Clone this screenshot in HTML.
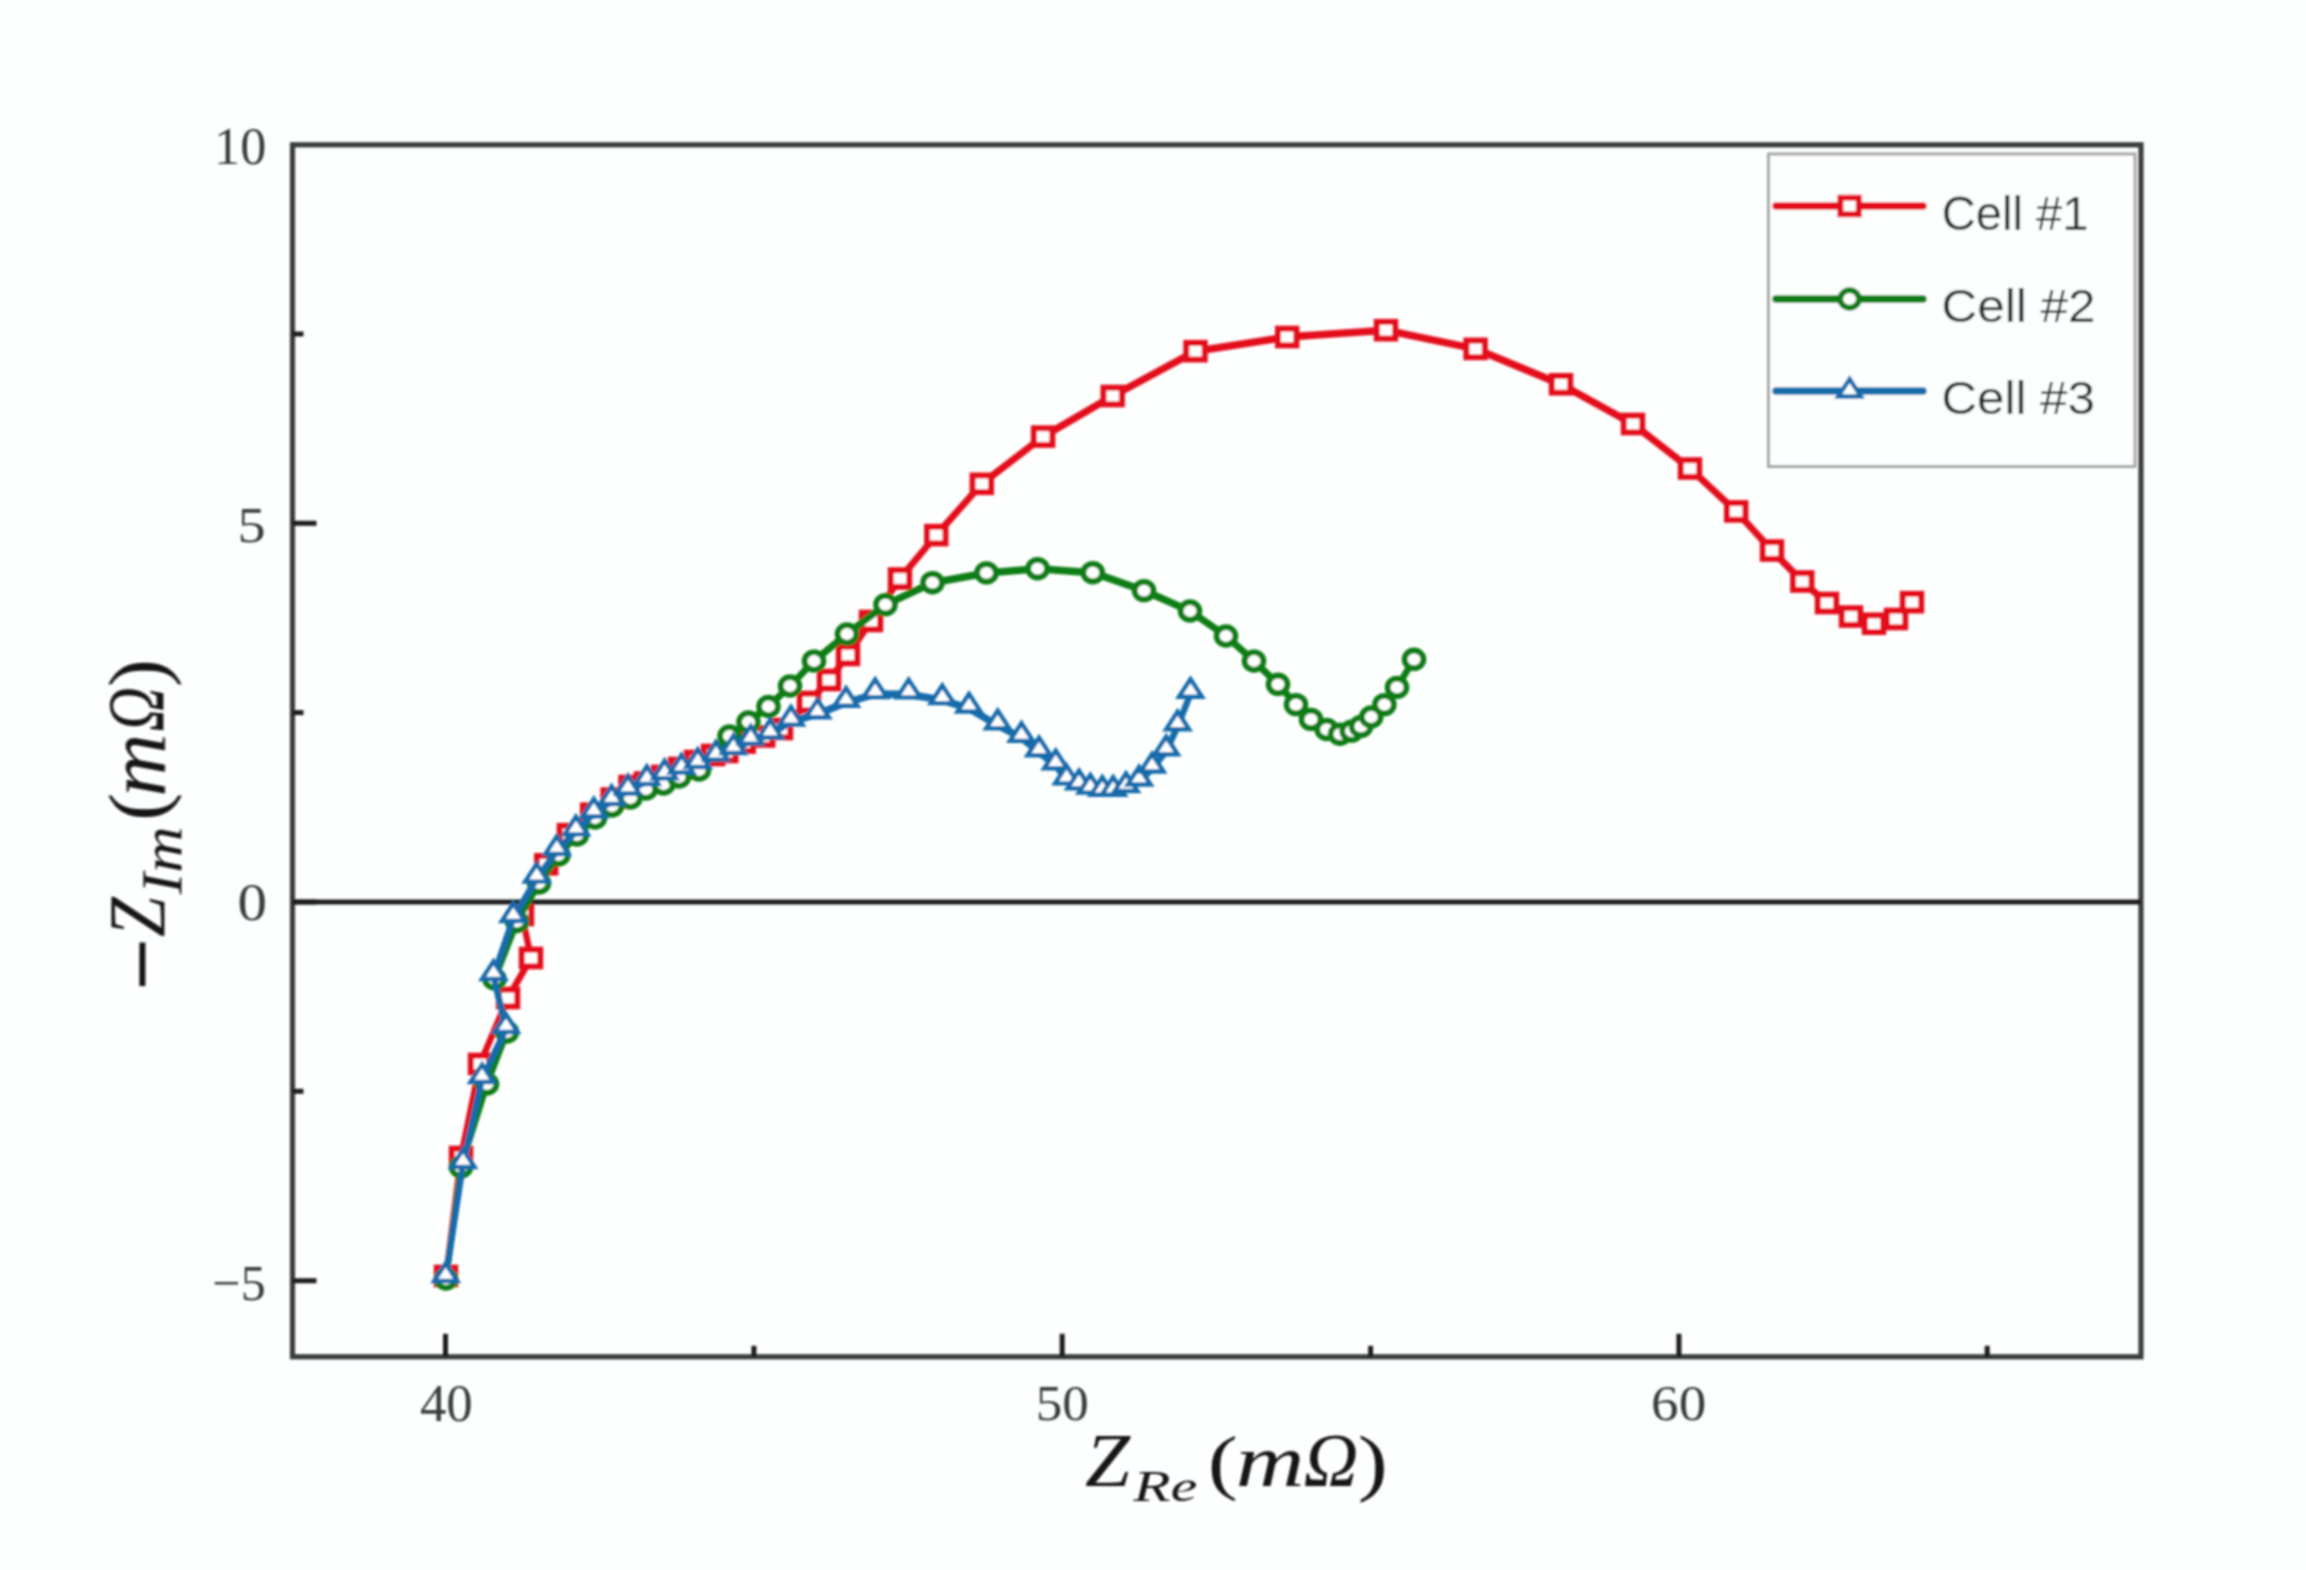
<!DOCTYPE html>
<html><head><meta charset="utf-8"><title>Nyquist plot</title>
<style>
html,body{margin:0;padding:0;background:#fdfefe;}
body{width:2306px;height:1570px;overflow:hidden;}
svg{display:block;}
</style></head>
<body>
<svg width="2306" height="1570" viewBox="0 0 2306 1570">
<defs><filter id="soft" filterUnits="userSpaceOnUse" x="0" y="0" width="2306" height="1570"><feGaussianBlur stdDeviation="0.8 1.2"/></filter></defs>
<rect width="2306" height="1570" fill="#fdfefe"/>
<g filter="url(#soft)">
<rect x="292.5" y="144.8" width="1848.5" height="1212.0" fill="none" stroke="#3a3c3c" stroke-width="5.2"/>
<line x1="292.5" y1="902.0" x2="2141.0" y2="902.0" stroke="#1e1f1f" stroke-width="5"/>
<line x1="292.5" y1="523.3" x2="316.5" y2="523.3" stroke="#1e1f1f" stroke-width="5"/>
<line x1="292.5" y1="902.0" x2="316.5" y2="902.0" stroke="#1e1f1f" stroke-width="5"/>
<line x1="292.5" y1="1280.7" x2="316.5" y2="1280.7" stroke="#1e1f1f" stroke-width="5"/>
<line x1="292.5" y1="334.0" x2="303.5" y2="334.0" stroke="#1e1f1f" stroke-width="5"/>
<line x1="292.5" y1="712.6" x2="303.5" y2="712.6" stroke="#1e1f1f" stroke-width="5"/>
<line x1="292.5" y1="1091.3" x2="303.5" y2="1091.3" stroke="#1e1f1f" stroke-width="5"/>
<line x1="445.5" y1="1356.8" x2="445.5" y2="1333.8" stroke="#1e1f1f" stroke-width="5"/>
<line x1="1062.2" y1="1356.8" x2="1062.2" y2="1333.8" stroke="#1e1f1f" stroke-width="5"/>
<line x1="1678.9" y1="1356.8" x2="1678.9" y2="1333.8" stroke="#1e1f1f" stroke-width="5"/>
<line x1="753.9" y1="1356.8" x2="753.9" y2="1345.8" stroke="#1e1f1f" stroke-width="5"/>
<line x1="1370.6" y1="1356.8" x2="1370.6" y2="1345.8" stroke="#1e1f1f" stroke-width="5"/>
<line x1="1987.2" y1="1356.8" x2="1987.2" y2="1345.8" stroke="#1e1f1f" stroke-width="5"/>
<text transform="translate(214.10,163.56) scale(0.5218,0.5191)" font-family="Liberation Serif, serif" font-style="normal" font-size="100" fill="#3a3c3e">10</text>
<text transform="translate(237.62,541.69) scale(0.5625,0.5136)" font-family="Liberation Serif, serif" font-style="normal" font-size="100" fill="#3a3c3e">5</text>
<text transform="translate(237.44,920.06) scale(0.5905,0.5179)" font-family="Liberation Serif, serif" font-style="normal" font-size="100" fill="#3a3c3e">0</text>
<text transform="translate(212.50,1300.29) scale(0.5000,0.5121)" font-family="Liberation Serif, serif" font-style="normal" font-size="100" fill="#3a3c3e">−5</text>
<text transform="translate(419.94,1420.86) scale(0.5287,0.5224)" font-family="Liberation Serif, serif" font-style="normal" font-size="100" fill="#3a3c3e">40</text>
<text transform="translate(1035.81,1420.39) scale(0.5311,0.5045)" font-family="Liberation Serif, serif" font-style="normal" font-size="100" fill="#3a3c3e">50</text>
<text transform="translate(1651.10,1419.99) scale(0.5511,0.5045)" font-family="Liberation Serif, serif" font-style="normal" font-size="100" fill="#3a3c3e">60</text>
<polyline transform="scale(1,1.22)" points="446.0,1045.90 461.0,948.36 480.0,872.13 508.0,818.03 531.0,785.25 522.0,750.00 546.2,708.44 568.9,683.77 592.1,666.97 612.6,654.51 630.4,644.26 646.0,641.39 663.0,636.07 680.0,629.51 696.0,623.77 713.0,618.85 726.4,616.39 743.7,608.69 763.2,603.69 781.0,597.54 809.0,575.41 829.0,557.38 848.0,536.89 871.0,509.02 900.0,474.18 936.3,438.61 981.8,396.56 1043.1,357.87 1112.7,324.59 1195.5,287.87 1287.2,276.23 1386.0,270.66 1475.6,285.98 1561.0,315.00 1633.0,347.54 1690.0,384.02 1736.2,419.18 1772.0,451.23 1802.3,476.64 1827.0,494.26 1851.0,505.33 1874.0,511.23 1896.0,507.38 1912.0,493.61" fill="none" stroke="#e3111b" stroke-width="6.2" stroke-linejoin="round" stroke-linecap="round"/>
<rect x="436.8" y="1267.7" width="18.4" height="16.6" fill="#fff" stroke="#e3111b" stroke-width="6.0"/>
<rect x="451.8" y="1148.7" width="18.4" height="16.6" fill="#fff" stroke="#e3111b" stroke-width="6.0"/>
<rect x="470.8" y="1055.7" width="18.4" height="16.6" fill="#fff" stroke="#e3111b" stroke-width="6.0"/>
<rect x="498.8" y="989.7" width="18.4" height="16.6" fill="#fff" stroke="#e3111b" stroke-width="6.0"/>
<rect x="521.8" y="949.7" width="18.4" height="16.6" fill="#fff" stroke="#e3111b" stroke-width="6.0"/>
<rect x="512.8" y="906.7" width="18.4" height="16.6" fill="#fff" stroke="#e3111b" stroke-width="6.0"/>
<rect x="537.0" y="856.0" width="18.4" height="16.6" fill="#fff" stroke="#e3111b" stroke-width="6.0"/>
<rect x="559.7" y="825.9" width="18.4" height="16.6" fill="#fff" stroke="#e3111b" stroke-width="6.0"/>
<rect x="582.9" y="805.4" width="18.4" height="16.6" fill="#fff" stroke="#e3111b" stroke-width="6.0"/>
<rect x="603.4" y="790.2" width="18.4" height="16.6" fill="#fff" stroke="#e3111b" stroke-width="6.0"/>
<rect x="621.2" y="777.7" width="18.4" height="16.6" fill="#fff" stroke="#e3111b" stroke-width="6.0"/>
<rect x="636.8" y="774.2" width="18.4" height="16.6" fill="#fff" stroke="#e3111b" stroke-width="6.0"/>
<rect x="653.8" y="767.7" width="18.4" height="16.6" fill="#fff" stroke="#e3111b" stroke-width="6.0"/>
<rect x="670.8" y="759.7" width="18.4" height="16.6" fill="#fff" stroke="#e3111b" stroke-width="6.0"/>
<rect x="686.8" y="752.7" width="18.4" height="16.6" fill="#fff" stroke="#e3111b" stroke-width="6.0"/>
<rect x="703.8" y="746.7" width="18.4" height="16.6" fill="#fff" stroke="#e3111b" stroke-width="6.0"/>
<rect x="717.2" y="743.7" width="18.4" height="16.6" fill="#fff" stroke="#e3111b" stroke-width="6.0"/>
<rect x="734.5" y="734.3" width="18.4" height="16.6" fill="#fff" stroke="#e3111b" stroke-width="6.0"/>
<rect x="754.0" y="728.2" width="18.4" height="16.6" fill="#fff" stroke="#e3111b" stroke-width="6.0"/>
<rect x="771.8" y="720.7" width="18.4" height="16.6" fill="#fff" stroke="#e3111b" stroke-width="6.0"/>
<rect x="799.8" y="693.7" width="18.4" height="16.6" fill="#fff" stroke="#e3111b" stroke-width="6.0"/>
<rect x="819.8" y="671.7" width="18.4" height="16.6" fill="#fff" stroke="#e3111b" stroke-width="6.0"/>
<rect x="838.8" y="646.7" width="18.4" height="16.6" fill="#fff" stroke="#e3111b" stroke-width="6.0"/>
<rect x="861.8" y="612.7" width="18.4" height="16.6" fill="#fff" stroke="#e3111b" stroke-width="6.0"/>
<rect x="890.8" y="570.2" width="18.4" height="16.6" fill="#fff" stroke="#e3111b" stroke-width="6.0"/>
<rect x="927.1" y="526.8" width="18.4" height="16.6" fill="#fff" stroke="#e3111b" stroke-width="6.0"/>
<rect x="972.6" y="475.5" width="18.4" height="16.6" fill="#fff" stroke="#e3111b" stroke-width="6.0"/>
<rect x="1033.9" y="428.3" width="18.4" height="16.6" fill="#fff" stroke="#e3111b" stroke-width="6.0"/>
<rect x="1103.5" y="387.7" width="18.4" height="16.6" fill="#fff" stroke="#e3111b" stroke-width="6.0"/>
<rect x="1186.3" y="342.9" width="18.4" height="16.6" fill="#fff" stroke="#e3111b" stroke-width="6.0"/>
<rect x="1278.0" y="328.7" width="18.4" height="16.6" fill="#fff" stroke="#e3111b" stroke-width="6.0"/>
<rect x="1376.8" y="321.9" width="18.4" height="16.6" fill="#fff" stroke="#e3111b" stroke-width="6.0"/>
<rect x="1466.4" y="340.6" width="18.4" height="16.6" fill="#fff" stroke="#e3111b" stroke-width="6.0"/>
<rect x="1551.8" y="376.0" width="18.4" height="16.6" fill="#fff" stroke="#e3111b" stroke-width="6.0"/>
<rect x="1623.8" y="415.7" width="18.4" height="16.6" fill="#fff" stroke="#e3111b" stroke-width="6.0"/>
<rect x="1680.8" y="460.2" width="18.4" height="16.6" fill="#fff" stroke="#e3111b" stroke-width="6.0"/>
<rect x="1727.0" y="503.1" width="18.4" height="16.6" fill="#fff" stroke="#e3111b" stroke-width="6.0"/>
<rect x="1762.8" y="542.2" width="18.4" height="16.6" fill="#fff" stroke="#e3111b" stroke-width="6.0"/>
<rect x="1793.1" y="573.2" width="18.4" height="16.6" fill="#fff" stroke="#e3111b" stroke-width="6.0"/>
<rect x="1817.8" y="594.7" width="18.4" height="16.6" fill="#fff" stroke="#e3111b" stroke-width="6.0"/>
<rect x="1841.8" y="608.2" width="18.4" height="16.6" fill="#fff" stroke="#e3111b" stroke-width="6.0"/>
<rect x="1864.8" y="615.4" width="18.4" height="16.6" fill="#fff" stroke="#e3111b" stroke-width="6.0"/>
<rect x="1886.8" y="610.7" width="18.4" height="16.6" fill="#fff" stroke="#e3111b" stroke-width="6.0"/>
<rect x="1902.8" y="593.9" width="18.4" height="16.6" fill="#fff" stroke="#e3111b" stroke-width="6.0"/>
<polyline transform="scale(1,1.22)" points="446.0,1048.36 461.0,956.56 487.0,888.52 507.0,845.90 494.5,802.46 517.0,755.33 539.0,723.77 558.5,700.82 577.0,684.43 595.0,670.49 612.0,660.66 630.5,654.10 646.0,646.72 663.5,642.62 679.0,636.89 699.0,631.15 729.5,603.28 748.5,591.80 768.5,579.10 790.0,562.30 814.0,541.80 847.0,519.67 885.5,495.66 932.5,477.62 986.5,469.59 1037.6,466.15 1092.8,469.43 1144.0,484.10 1190.0,500.82 1226.0,521.31 1254.0,541.80 1278.0,560.90 1296.0,577.54 1311.0,589.67 1326.7,597.95 1340.0,601.80 1351.6,599.26 1361.0,595.41 1371.2,587.70 1384.4,577.54 1397.0,563.44 1414.0,540.41" fill="none" stroke="#0e7d12" stroke-width="6.2" stroke-linejoin="round" stroke-linecap="round"/>
<ellipse cx="446.0" cy="1279.0" rx="9.4" ry="8.8" fill="#fff" stroke="#0e7d12" stroke-width="5.8"/>
<ellipse cx="461.0" cy="1167.0" rx="9.4" ry="8.8" fill="#fff" stroke="#0e7d12" stroke-width="5.8"/>
<ellipse cx="487.0" cy="1084.0" rx="9.4" ry="8.8" fill="#fff" stroke="#0e7d12" stroke-width="5.8"/>
<ellipse cx="507.0" cy="1032.0" rx="9.4" ry="8.8" fill="#fff" stroke="#0e7d12" stroke-width="5.8"/>
<ellipse cx="494.5" cy="979.0" rx="9.4" ry="8.8" fill="#fff" stroke="#0e7d12" stroke-width="5.8"/>
<ellipse cx="517.0" cy="921.5" rx="9.4" ry="8.8" fill="#fff" stroke="#0e7d12" stroke-width="5.8"/>
<ellipse cx="539.0" cy="883.0" rx="9.4" ry="8.8" fill="#fff" stroke="#0e7d12" stroke-width="5.8"/>
<ellipse cx="558.5" cy="855.0" rx="9.4" ry="8.8" fill="#fff" stroke="#0e7d12" stroke-width="5.8"/>
<ellipse cx="577.0" cy="835.0" rx="9.4" ry="8.8" fill="#fff" stroke="#0e7d12" stroke-width="5.8"/>
<ellipse cx="595.0" cy="818.0" rx="9.4" ry="8.8" fill="#fff" stroke="#0e7d12" stroke-width="5.8"/>
<ellipse cx="612.0" cy="806.0" rx="9.4" ry="8.8" fill="#fff" stroke="#0e7d12" stroke-width="5.8"/>
<ellipse cx="630.5" cy="798.0" rx="9.4" ry="8.8" fill="#fff" stroke="#0e7d12" stroke-width="5.8"/>
<ellipse cx="646.0" cy="789.0" rx="9.4" ry="8.8" fill="#fff" stroke="#0e7d12" stroke-width="5.8"/>
<ellipse cx="663.5" cy="784.0" rx="9.4" ry="8.8" fill="#fff" stroke="#0e7d12" stroke-width="5.8"/>
<ellipse cx="679.0" cy="777.0" rx="9.4" ry="8.8" fill="#fff" stroke="#0e7d12" stroke-width="5.8"/>
<ellipse cx="699.0" cy="770.0" rx="9.4" ry="8.8" fill="#fff" stroke="#0e7d12" stroke-width="5.8"/>
<ellipse cx="729.5" cy="736.0" rx="9.4" ry="8.8" fill="#fff" stroke="#0e7d12" stroke-width="5.8"/>
<ellipse cx="748.5" cy="722.0" rx="9.4" ry="8.8" fill="#fff" stroke="#0e7d12" stroke-width="5.8"/>
<ellipse cx="768.5" cy="706.5" rx="9.4" ry="8.8" fill="#fff" stroke="#0e7d12" stroke-width="5.8"/>
<ellipse cx="790.0" cy="686.0" rx="9.4" ry="8.8" fill="#fff" stroke="#0e7d12" stroke-width="5.8"/>
<ellipse cx="814.0" cy="661.0" rx="9.4" ry="8.8" fill="#fff" stroke="#0e7d12" stroke-width="5.8"/>
<ellipse cx="847.0" cy="634.0" rx="9.4" ry="8.8" fill="#fff" stroke="#0e7d12" stroke-width="5.8"/>
<ellipse cx="885.5" cy="604.7" rx="9.4" ry="8.8" fill="#fff" stroke="#0e7d12" stroke-width="5.8"/>
<ellipse cx="932.5" cy="582.7" rx="9.4" ry="8.8" fill="#fff" stroke="#0e7d12" stroke-width="5.8"/>
<ellipse cx="986.5" cy="572.9" rx="9.4" ry="8.8" fill="#fff" stroke="#0e7d12" stroke-width="5.8"/>
<ellipse cx="1037.6" cy="568.7" rx="9.4" ry="8.8" fill="#fff" stroke="#0e7d12" stroke-width="5.8"/>
<ellipse cx="1092.8" cy="572.7" rx="9.4" ry="8.8" fill="#fff" stroke="#0e7d12" stroke-width="5.8"/>
<ellipse cx="1144.0" cy="590.6" rx="9.4" ry="8.8" fill="#fff" stroke="#0e7d12" stroke-width="5.8"/>
<ellipse cx="1190.0" cy="611.0" rx="9.4" ry="8.8" fill="#fff" stroke="#0e7d12" stroke-width="5.8"/>
<ellipse cx="1226.0" cy="636.0" rx="9.4" ry="8.8" fill="#fff" stroke="#0e7d12" stroke-width="5.8"/>
<ellipse cx="1254.0" cy="661.0" rx="9.4" ry="8.8" fill="#fff" stroke="#0e7d12" stroke-width="5.8"/>
<ellipse cx="1278.0" cy="684.3" rx="9.4" ry="8.8" fill="#fff" stroke="#0e7d12" stroke-width="5.8"/>
<ellipse cx="1296.0" cy="704.6" rx="9.4" ry="8.8" fill="#fff" stroke="#0e7d12" stroke-width="5.8"/>
<ellipse cx="1311.0" cy="719.4" rx="9.4" ry="8.8" fill="#fff" stroke="#0e7d12" stroke-width="5.8"/>
<ellipse cx="1326.7" cy="729.5" rx="9.4" ry="8.8" fill="#fff" stroke="#0e7d12" stroke-width="5.8"/>
<ellipse cx="1340.0" cy="734.2" rx="9.4" ry="8.8" fill="#fff" stroke="#0e7d12" stroke-width="5.8"/>
<ellipse cx="1351.6" cy="731.1" rx="9.4" ry="8.8" fill="#fff" stroke="#0e7d12" stroke-width="5.8"/>
<ellipse cx="1361.0" cy="726.4" rx="9.4" ry="8.8" fill="#fff" stroke="#0e7d12" stroke-width="5.8"/>
<ellipse cx="1371.2" cy="717.0" rx="9.4" ry="8.8" fill="#fff" stroke="#0e7d12" stroke-width="5.8"/>
<ellipse cx="1384.4" cy="704.6" rx="9.4" ry="8.8" fill="#fff" stroke="#0e7d12" stroke-width="5.8"/>
<ellipse cx="1397.0" cy="687.4" rx="9.4" ry="8.8" fill="#fff" stroke="#0e7d12" stroke-width="5.8"/>
<ellipse cx="1414.0" cy="659.3" rx="9.4" ry="8.8" fill="#fff" stroke="#0e7d12" stroke-width="5.8"/>
<polyline transform="scale(1,1.22)" points="445.7,1047.54 463.0,954.10 482.0,884.43 506.0,843.44 493.5,800.00 513.3,752.46 536.7,720.16 556.8,697.54 576.0,681.48 593.8,666.80 611.6,656.56 628.0,647.95 646.9,640.16 664.7,635.49 681.6,630.74 697.8,626.23 716.0,620.16 733.4,614.75 750.7,607.05 770.2,602.05 791.0,591.48 817.4,585.41 846.0,575.98 875.2,568.93 908.7,569.18 942.3,573.85 969.0,580.74 997.7,594.51 1021.5,604.84 1039.0,616.64 1055.7,627.30 1066.6,639.67 1079.0,643.69 1090.4,647.21 1102.3,649.02 1113.1,649.02 1126.0,645.90 1139.1,640.57 1152.1,629.92 1166.2,615.74 1177.6,595.33 1190.5,568.69" fill="none" stroke="#136cab" stroke-width="6.2" stroke-linejoin="round" stroke-linecap="round"/>
<polygon points="445.7,1263.5 457.1,1281.0 434.3,1281.0" fill="#fff" stroke="#136cab" stroke-width="4.4" stroke-linejoin="miter"/>
<polygon points="463.0,1149.5 474.4,1167.0 451.6,1167.0" fill="#fff" stroke="#136cab" stroke-width="4.4" stroke-linejoin="miter"/>
<polygon points="482.0,1064.5 493.4,1082.0 470.6,1082.0" fill="#fff" stroke="#136cab" stroke-width="4.4" stroke-linejoin="miter"/>
<polygon points="506.0,1014.5 517.4,1032.0 494.6,1032.0" fill="#fff" stroke="#136cab" stroke-width="4.4" stroke-linejoin="miter"/>
<polygon points="493.5,961.5 504.9,979.0 482.1,979.0" fill="#fff" stroke="#136cab" stroke-width="4.4" stroke-linejoin="miter"/>
<polygon points="513.3,903.5 524.7,921.0 501.9,921.0" fill="#fff" stroke="#136cab" stroke-width="4.4" stroke-linejoin="miter"/>
<polygon points="536.7,864.1 548.1,881.6 525.3,881.6" fill="#fff" stroke="#136cab" stroke-width="4.4" stroke-linejoin="miter"/>
<polygon points="556.8,836.5 568.2,854.0 545.4,854.0" fill="#fff" stroke="#136cab" stroke-width="4.4" stroke-linejoin="miter"/>
<polygon points="576.0,816.9 587.4,834.4 564.6,834.4" fill="#fff" stroke="#136cab" stroke-width="4.4" stroke-linejoin="miter"/>
<polygon points="593.8,799.0 605.2,816.5 582.4,816.5" fill="#fff" stroke="#136cab" stroke-width="4.4" stroke-linejoin="miter"/>
<polygon points="611.6,786.5 623.0,804.0 600.2,804.0" fill="#fff" stroke="#136cab" stroke-width="4.4" stroke-linejoin="miter"/>
<polygon points="628.0,776.0 639.4,793.5 616.6,793.5" fill="#fff" stroke="#136cab" stroke-width="4.4" stroke-linejoin="miter"/>
<polygon points="646.9,766.5 658.3,784.0 635.5,784.0" fill="#fff" stroke="#136cab" stroke-width="4.4" stroke-linejoin="miter"/>
<polygon points="664.7,760.8 676.1,778.3 653.3,778.3" fill="#fff" stroke="#136cab" stroke-width="4.4" stroke-linejoin="miter"/>
<polygon points="681.6,755.0 693.0,772.5 670.2,772.5" fill="#fff" stroke="#136cab" stroke-width="4.4" stroke-linejoin="miter"/>
<polygon points="697.8,749.5 709.2,767.0 686.4,767.0" fill="#fff" stroke="#136cab" stroke-width="4.4" stroke-linejoin="miter"/>
<polygon points="716.0,742.1 727.4,759.6 704.6,759.6" fill="#fff" stroke="#136cab" stroke-width="4.4" stroke-linejoin="miter"/>
<polygon points="733.4,735.5 744.8,753.0 722.0,753.0" fill="#fff" stroke="#136cab" stroke-width="4.4" stroke-linejoin="miter"/>
<polygon points="750.7,726.1 762.1,743.6 739.3,743.6" fill="#fff" stroke="#136cab" stroke-width="4.4" stroke-linejoin="miter"/>
<polygon points="770.2,720.0 781.6,737.5 758.8,737.5" fill="#fff" stroke="#136cab" stroke-width="4.4" stroke-linejoin="miter"/>
<polygon points="791.0,707.1 802.4,724.6 779.6,724.6" fill="#fff" stroke="#136cab" stroke-width="4.4" stroke-linejoin="miter"/>
<polygon points="817.4,699.7 828.8,717.2 806.0,717.2" fill="#fff" stroke="#136cab" stroke-width="4.4" stroke-linejoin="miter"/>
<polygon points="846.0,688.2 857.4,705.7 834.6,705.7" fill="#fff" stroke="#136cab" stroke-width="4.4" stroke-linejoin="miter"/>
<polygon points="875.2,679.6 886.6,697.1 863.8,697.1" fill="#fff" stroke="#136cab" stroke-width="4.4" stroke-linejoin="miter"/>
<polygon points="908.7,679.9 920.1,697.4 897.3,697.4" fill="#fff" stroke="#136cab" stroke-width="4.4" stroke-linejoin="miter"/>
<polygon points="942.3,685.6 953.7,703.1 930.9,703.1" fill="#fff" stroke="#136cab" stroke-width="4.4" stroke-linejoin="miter"/>
<polygon points="969.0,694.0 980.4,711.5 957.6,711.5" fill="#fff" stroke="#136cab" stroke-width="4.4" stroke-linejoin="miter"/>
<polygon points="997.7,710.8 1009.1,728.3 986.3,728.3" fill="#fff" stroke="#136cab" stroke-width="4.4" stroke-linejoin="miter"/>
<polygon points="1021.5,723.4 1032.9,740.9 1010.1,740.9" fill="#fff" stroke="#136cab" stroke-width="4.4" stroke-linejoin="miter"/>
<polygon points="1039.0,737.8 1050.4,755.3 1027.6,755.3" fill="#fff" stroke="#136cab" stroke-width="4.4" stroke-linejoin="miter"/>
<polygon points="1055.7,750.8 1067.1,768.3 1044.3,768.3" fill="#fff" stroke="#136cab" stroke-width="4.4" stroke-linejoin="miter"/>
<polygon points="1066.6,765.9 1078.0,783.4 1055.2,783.4" fill="#fff" stroke="#136cab" stroke-width="4.4" stroke-linejoin="miter"/>
<polygon points="1079.0,770.8 1090.4,788.3 1067.6,788.3" fill="#fff" stroke="#136cab" stroke-width="4.4" stroke-linejoin="miter"/>
<polygon points="1090.4,775.1 1101.8,792.6 1079.0,792.6" fill="#fff" stroke="#136cab" stroke-width="4.4" stroke-linejoin="miter"/>
<polygon points="1102.3,777.3 1113.7,794.8 1090.9,794.8" fill="#fff" stroke="#136cab" stroke-width="4.4" stroke-linejoin="miter"/>
<polygon points="1113.1,777.3 1124.5,794.8 1101.7,794.8" fill="#fff" stroke="#136cab" stroke-width="4.4" stroke-linejoin="miter"/>
<polygon points="1126.0,773.5 1137.4,791.0 1114.6,791.0" fill="#fff" stroke="#136cab" stroke-width="4.4" stroke-linejoin="miter"/>
<polygon points="1139.1,767.0 1150.5,784.5 1127.7,784.5" fill="#fff" stroke="#136cab" stroke-width="4.4" stroke-linejoin="miter"/>
<polygon points="1152.1,754.0 1163.5,771.5 1140.7,771.5" fill="#fff" stroke="#136cab" stroke-width="4.4" stroke-linejoin="miter"/>
<polygon points="1166.2,736.7 1177.6,754.2 1154.8,754.2" fill="#fff" stroke="#136cab" stroke-width="4.4" stroke-linejoin="miter"/>
<polygon points="1177.6,711.8 1189.0,729.3 1166.2,729.3" fill="#fff" stroke="#136cab" stroke-width="4.4" stroke-linejoin="miter"/>
<polygon points="1190.5,679.3 1201.9,696.8 1179.1,696.8" fill="#fff" stroke="#136cab" stroke-width="4.4" stroke-linejoin="miter"/>
<rect x="1768.5" y="154" width="366.5" height="312.5" fill="#fdfefe" stroke="#a4a6a6" stroke-width="3"/>
<line x1="1776" y1="206" x2="1923" y2="206" stroke="#e3111b" stroke-width="7.6" stroke-linecap="round"/>
<rect x="1840.4" y="197.7" width="18.4" height="16.6" fill="#fff" stroke="#e3111b" stroke-width="6.0"/>
<text transform="translate(1941.64,230.22) scale(0.4718,0.4811)" font-family="Liberation Sans, sans-serif" font-style="normal" font-size="100" fill="#2b2e31">Cell #1</text>
<line x1="1776" y1="299" x2="1923" y2="299" stroke="#0e7d12" stroke-width="7.6" stroke-linecap="round"/>
<ellipse cx="1849.6" cy="299.0" rx="9.4" ry="8.8" fill="#fff" stroke="#0e7d12" stroke-width="5.8"/>
<text transform="translate(1941.52,321.73) scale(0.4950,0.4689)" font-family="Liberation Sans, sans-serif" font-style="normal" font-size="100" fill="#2b2e31">Cell #2</text>
<line x1="1776" y1="391" x2="1923" y2="391" stroke="#136cab" stroke-width="7.6" stroke-linecap="round"/>
<polygon points="1849.6,379.0 1861.0,396.5 1838.2,396.5" fill="#fff" stroke="#136cab" stroke-width="4.4" stroke-linejoin="miter"/>
<text transform="translate(1941.54,414.34) scale(0.4927,0.4581)" font-family="Liberation Sans, sans-serif" font-style="normal" font-size="100" fill="#2b2e31">Cell #3</text>
<text transform="translate(1084.99,1486.30) scale(0.8091,0.7554)" font-family="Liberation Serif, serif" font-style="italic" font-size="100" fill="#141414">Z</text>
<text transform="translate(1133.40,1500.75) scale(0.6058,0.4500)" font-family="Liberation Serif, serif" font-style="italic" font-size="100" fill="#141414">Re</text>
<text transform="translate(1207.80,1485.89) scale(0.9000,0.7289)" font-family="Liberation Serif, serif" font-style="normal" font-size="100" fill="#141414">(</text>
<text transform="translate(1235.69,1486.30) scale(0.9516,0.7468)" font-family="Liberation Serif, serif" font-style="italic" font-size="100" fill="#141414">m</text>
<text transform="translate(1303.48,1486.30) scale(0.7582,0.7554)" font-family="Liberation Serif, serif" font-style="italic" font-size="100" fill="#141414">Ω</text>
<text transform="translate(1357.79,1486.51) scale(0.9038,0.7378)" font-family="Liberation Serif, serif" font-style="normal" font-size="100" fill="#141414">)</text>
<g transform="translate(164.4,986) rotate(-90)"><text transform="translate(-4.68,18.00) scale(0.9362,1.2000)" font-family="Liberation Serif, serif" font-style="normal" font-size="100" fill="#141414">−</text><text transform="translate(49.08,0.10) scale(0.7164,0.8138)" font-family="Liberation Serif, serif" font-style="italic" font-size="100" fill="#141414">Z</text><text transform="translate(91.80,16.60) scale(0.6426,0.5677)" font-family="Liberation Serif, serif" font-style="italic" font-size="100" fill="#141414">Im</text><text transform="translate(165.25,-0.39) scale(0.8385,0.8089)" font-family="Liberation Serif, serif" font-style="normal" font-size="100" fill="#141414">(</text><text transform="translate(189.19,0.00) scale(0.8766,0.8170)" font-family="Liberation Serif, serif" font-style="italic" font-size="100" fill="#141414">m</text><text transform="translate(254.47,-0.60) scale(0.6164,0.7938)" font-family="Liberation Serif, serif" font-style="italic" font-size="100" fill="#141414">Ω</text><text transform="translate(299.08,-0.39) scale(0.8385,0.8089)" font-family="Liberation Serif, serif" font-style="normal" font-size="100" fill="#141414">)</text></g>
</g>
</svg>
</body></html>
